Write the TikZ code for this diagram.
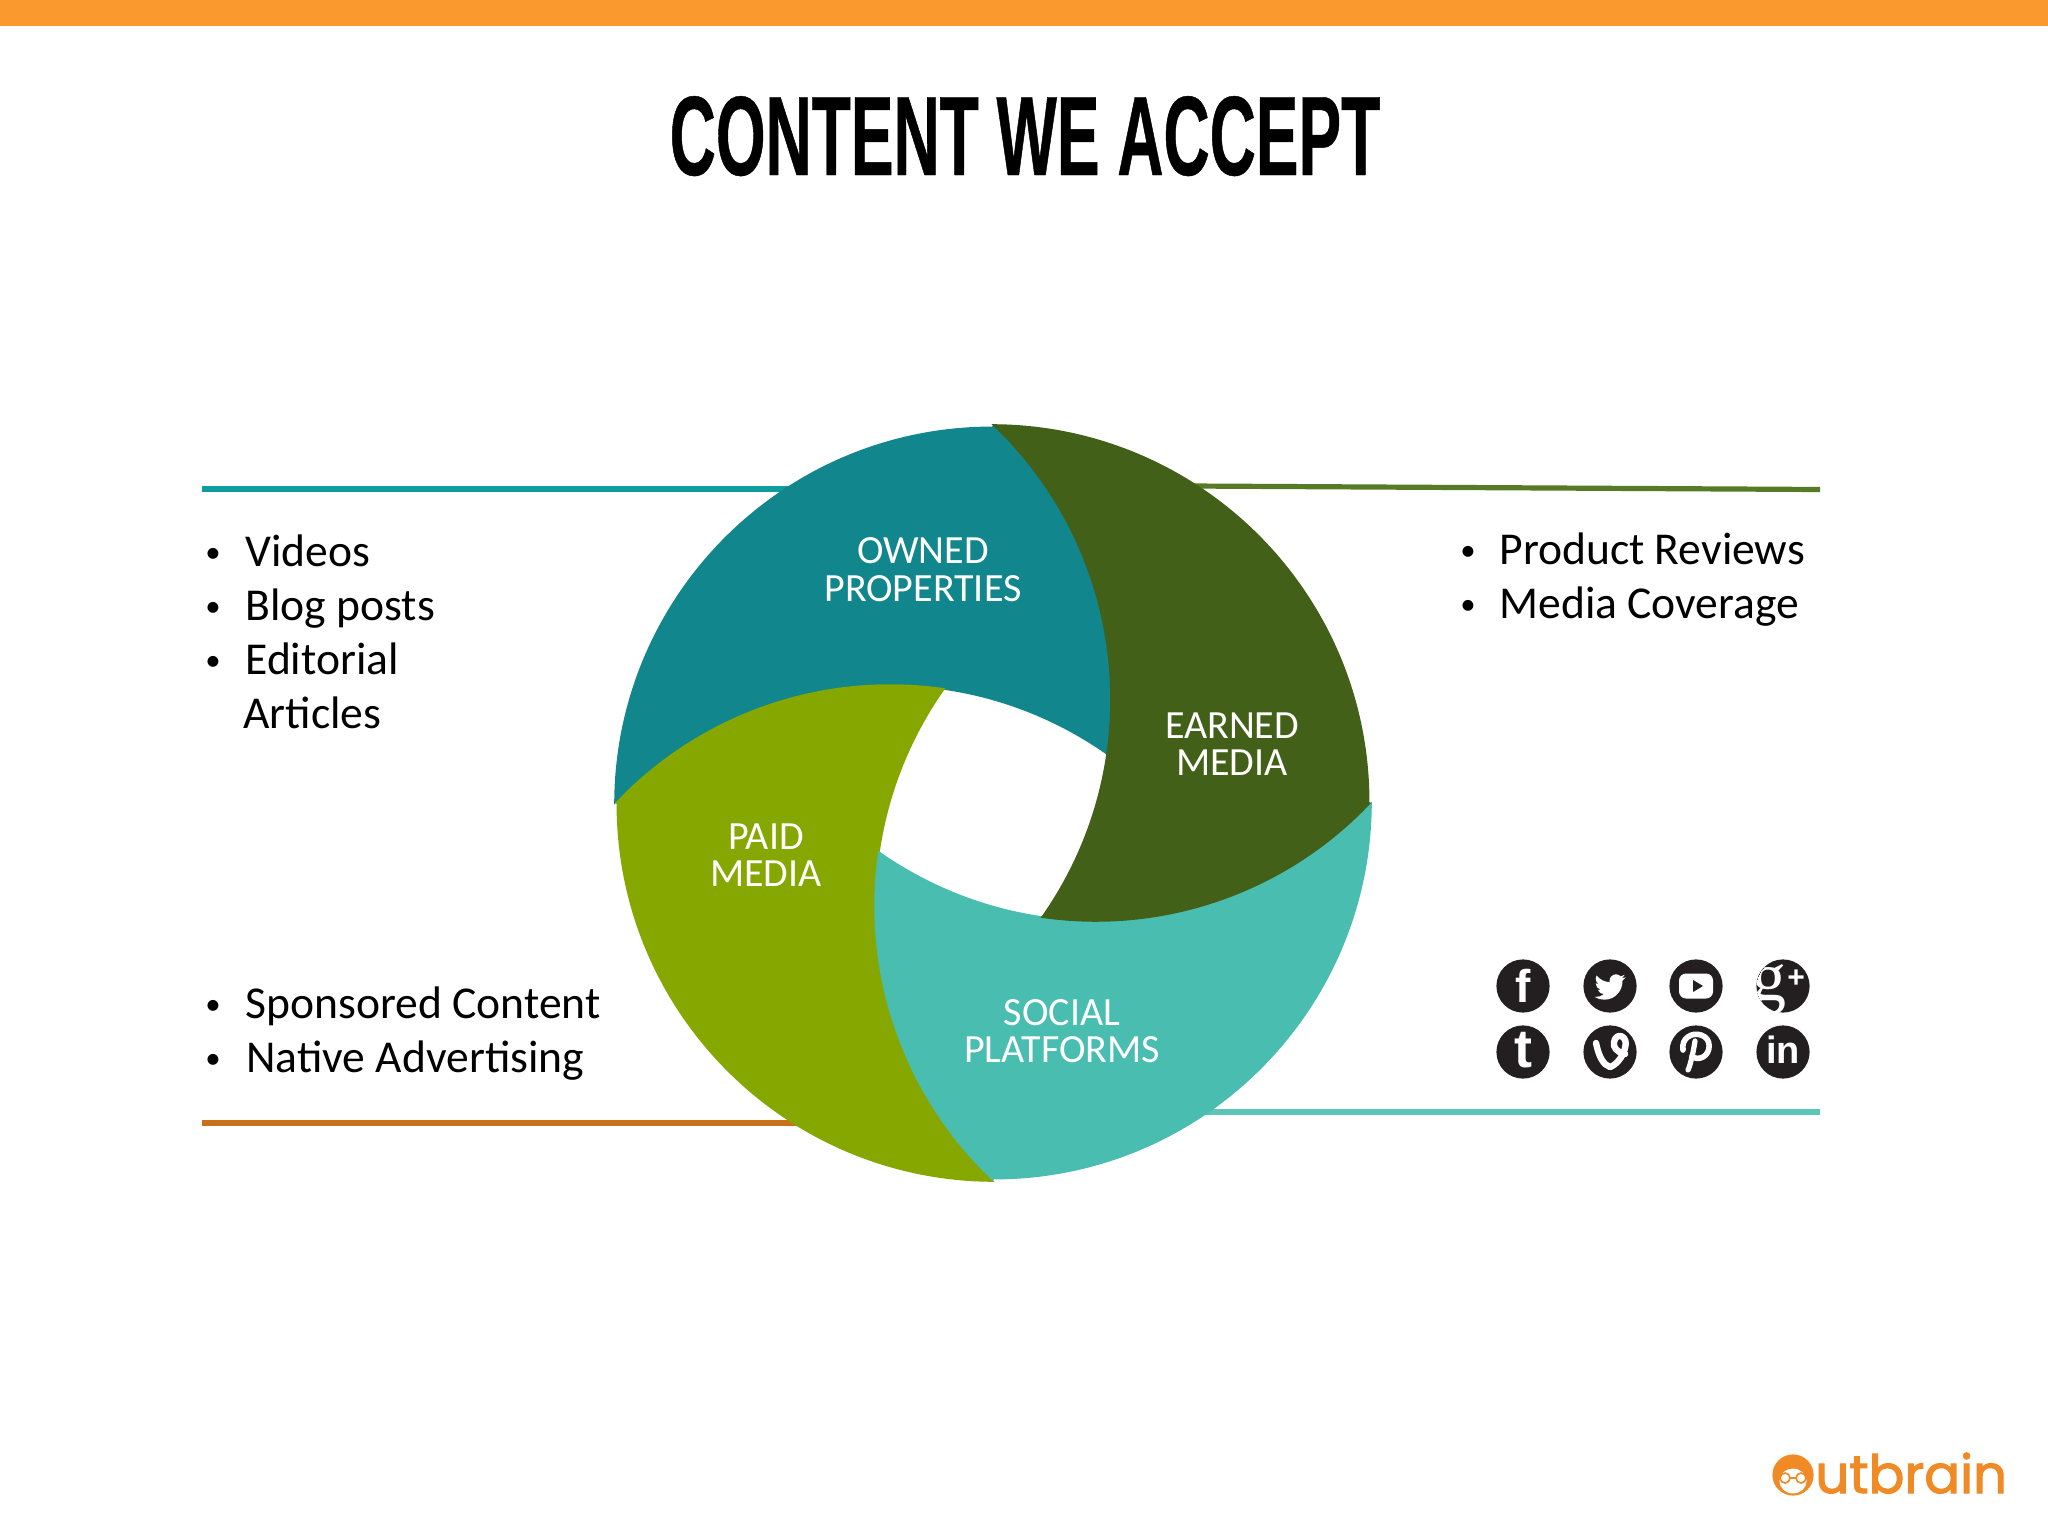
\documentclass[tikz,border=0pt]{standalone}
\usepackage{fontspec}
\setmainfont{Carlito}
\newfontfamily\titlefont[FakeStretch=0.566,FakeBold=0.4]{Liberation Sans Bold}
\newfontfamily\logofont[FakeBold=2]{Poppins}
\newfontfamily\iconsans{Liberation Sans Bold}
\newfontfamily\iconserif{Liberation Serif}
\usetikzlibrary{svg.path}
\definecolor{barorange}{HTML}{FA9A2E}
\definecolor{ownedc}{HTML}{11868C}
\definecolor{earnedc}{HTML}{436019}
\definecolor{socialc}{HTML}{48BDB0}
\definecolor{paidc}{HTML}{85A700}
\definecolor{tealline}{HTML}{0E9C9C}
\definecolor{greenline}{HTML}{567A26}
\definecolor{orangeline}{HTML}{C9701A}
\definecolor{aqualine}{HTML}{5CC4B8}
\definecolor{icondark}{HTML}{231F20}
\definecolor{logoorange}{HTML}{F08A24}
\tikzset{
  lab/.style={text=white,anchor=base,font=\fontsize{20}{22}\selectfont,inner sep=0pt},
  item/.style={text=black,anchor=base west,font=\fontsize{22.8}{24}\selectfont,inner sep=0pt},
  bul/.style={text=black,anchor=base west,font=\fontsize{15.4}{17}\selectfont,inner sep=0pt},
  rule/.style={line width=2.6pt},
  iconbg/.style={fill=icondark,draw=none},
  glyphline/.style={draw=white,line width=3.2pt,line cap=round,line join=round}
}
\newcommand{\petal}[2]{%
  \fill[#2,rotate=#1] (0,378) arc[start angle=46.7,end angle=-8.4,radius=189pt]
     arc[start angle=54.7,end angle=136.7,radius=189pt]
     arc[start angle=180,end angle=90,radius=189pt] -- cycle;}
\begin{document}
\begin{tikzpicture}[x=0.5pt,y=-0.5pt]
\useasboundingbox (0,0) rectangle (2048,1536);
\fill[white] (0,0) rectangle (2048,1536);
\fill[barorange] (0,0) rectangle (2048,26);
\node[anchor=base,inner sep=0pt,font=\titlefont\fontsize{56.5}{60}\selectfont] (title) at (1025,175) {CONTENT WE ACCEPT};

% rules
\coordinate (tl) at (202,489); \coordinate (tr) at (800,489);
\coordinate (gl) at (1190,486); \coordinate (gr) at (1820,489.5);
\coordinate (ol) at (202,1123); \coordinate (or) at (800,1123);
\coordinate (al) at (1190,1112); \coordinate (ar) at (1820,1112);
\draw[rule,tealline] (tl) -- (tr);
\draw[rule,greenline] (gl) -- (gr);
\draw[rule,orangeline] (ol) -- (or);
\draw[rule,aqualine] (al) -- (ar);

% disk
\begin{scope}[shift={(993,803)},y=0.5pt]
\petal{0}{ownedc}
\petal{90}{paidc}
\petal{180}{socialc}
\petal{270}{earnedc}
\end{scope}

\node[lab] (o1) at (923,563) {OWNED};
\node[lab] (o2) at (923,601) {PROPERTIES};
\node[lab] (e1) at (1232,738) {EARNED};
\node[lab] (e2) at (1232,775) {MEDIA};
\node[lab] (p1) at (766,849) {PAID};
\node[lab] (p2) at (766,886.5) {MEDIA};
\node[lab] (s1) at (1062,1025) {SOCIAL};
\node[lab] (s2) at (1062,1062) {PLATFORMS};

% lists
\node[bul] (b1) at (205,562) {•};
\node[item] (t1) at (245,566) {Videos};
\node[bul] (b2) at (205,616) {•};
\node[item] (t2) at (245,620) {Blog posts};
\node[bul] (b3) at (205,670) {•};
\node[item] (t3) at (245,674) {Editorial};
\node[item] (t3b) at (243,728) {Articles};
\node[bul] (b4) at (205,1014) {•};
\node[item] (t4) at (245,1018) {Sponsored Content};
\node[bul] (b5) at (205,1068) {•};
\node[item] (t5) at (246,1072) {Native Advertising};
\node[bul] (b6) at (1460,560) {•};
\node[item] (t6) at (1499,564) {Product Reviews};
\node[bul] (b7) at (1460,614) {•};
\node[item] (t7) at (1499,618) {Media Coverage};

% icons
\foreach \n/\cx/\cy in {fb/1523/986,tw/1610/986,yt/1696/986,gp/1783/986,tu/1523/1052,vi/1610/1052,pi/1696/1052,li/1783/1052}
  \fill[iconbg] (\cx,\cy) circle[radius=13.3pt] coordinate (\n);
\node[text=white,inner sep=0pt,font=\iconsans\fontsize{23}{24}\selectfont,anchor=base] (ff) at (1523,1002) {f};
\node[text=white,inner sep=0pt,font=\iconsans\fontsize{27}{28}\selectfont,anchor=base] (tt) at (1523,1067) {t};
\node[text=white,inner sep=0pt,font=\iconsans\fontsize{19}{20}\selectfont,anchor=base] (ll) at (1783,1063) {in};
% twitter
\begin{scope}[shift={(1610,987)},scale=0.65,yscale=-1,shift={(-12pt,-12pt)}]
\fill[white] svg {M 23.954 4.569 c -0.885 0.389 -1.83 0.654 -2.825 0.775 c 1.014 -0.611 1.794 -1.574 2.163 -2.723 c -0.951 0.555 -2.005 0.959 -3.127 1.184 c -0.896 -0.959 -2.173 -1.559 -3.591 -1.559 c -2.717 0 -4.92 2.203 -4.92 4.917 c 0 0.39 0.045 0.765 0.127 1.124 C 7.691 8.094 4.066 6.13 1.64 3.161 c -0.427 0.722 -0.666 1.561 -0.666 2.475 c 0 1.71 0.87 3.213 2.188 4.096 c -0.807 -0.026 -1.566 -0.248 -2.228 -0.616 v 0.061 c 0 2.385 1.693 4.374 3.946 4.827 c -0.413 0.111 -0.849 0.171 -1.296 0.171 c -0.314 0 -0.615 -0.03 -0.916 -0.086 c 0.631 1.953 2.445 3.377 4.604 3.417 c -1.68 1.319 -3.809 2.105 -6.102 2.105 c -0.39 0 -0.779 -0.023 -1.17 -0.067 c 2.189 1.394 4.768 2.209 7.557 2.209 c 9.054 0 13.999 -7.496 13.999 -13.986 c 0 -0.209 0 -0.42 -0.015 -0.63 c 0.961 -0.689 1.8 -1.56 2.46 -2.548 z};
\end{scope}
% youtube
\begin{scope}[shift={(1696,986)}]
\fill[white,rounded corners=3.5pt] (-17,-12.5) rectangle (17,12.5);
\fill[icondark] (-3,-6) -- (7,0) -- (-3,6) -- cycle;
\end{scope}
% google plus
\begin{scope}
\clip (1783,986) circle[radius=13.3pt];
\node[text=white,inner sep=0pt,font=\iconserif\fontsize{35}{36}\selectfont,anchor=base] (gg) at (1769,1000) {g};
\end{scope}
\node[text=white,inner sep=0pt,font=\iconsans\fontsize{15}{16}\selectfont] (pp) at (1796,979) {+};
% vine
\begin{scope}[shift={(1610,1052)}]
\draw[glyphline] (-14,-9) .. controls (-11,6) and (-6,13) .. (0,15) .. controls (6,13) and (13,5) .. (15,-4) .. controls (19,-16) and (6,-21) .. (4,-10) .. controls (3,-5) and (6,0) .. (15,2);
\end{scope}
% pinterest
\begin{scope}[shift={(1696,1052)}]
\draw[glyphline,line width=2.8pt] (-13,-2) .. controls (-15,-14) and (-4,-20) .. (5,-17) .. controls (16,-14) and (15,1) .. (7,5) .. controls (3,7) and (-1,7) .. (-4,4);
\draw[glyphline,line width=2.6pt] (-1,-11) .. controls (-3,2) and (-6,14) .. (-8,18);
\end{scope}

% logo
\fill[logoorange] (1793,1475) circle[radius=10.3pt];
\fill[white] (1793,1481) ellipse[x radius=6.8pt,y radius=6.2pt];
\fill[white] (1781,1476) rectangle (1805,1481);
\fill[logoorange] (1778,1477) rectangle (1808,1479);
\foreach \gx/\nm in {1785/ga,1801/gb}
  \draw[logoorange,fill=white,line width=0.8pt] (\gx,1478) circle[radius=2.5pt] coordinate (\nm);
\node[text=logoorange,inner sep=0pt,anchor=base west,font=\logofont\fontsize{26.5}{28}\selectfont] (logo) at (1815,1493) {utbrain};
\end{tikzpicture}
\end{document}
